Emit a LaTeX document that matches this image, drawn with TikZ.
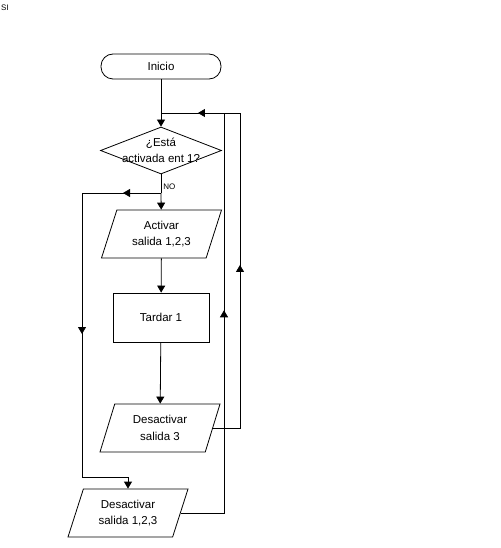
\documentclass[tikz,border=0pt]{standalone}
\usepackage{fontspec}
\setmainfont{Liberation Sans}
\usetikzlibrary{shapes.geometric, arrows.meta, decorations.markings}

\tikzset{
	flow/.style={line width=0.8pt, -{Triangle[length=7pt,width=8pt]}},
	midarrow/.style={postaction={decorate,decoration={markings,mark=at position #1 with {\arrow{Triangle[length=7pt,width=8pt]}}}}},
	terminal/.style={rectangle, draw, line width=0.8pt, rounded corners=12pt, minimum width=120pt, minimum height=25pt},
	decision/.style={diamond, draw, line width=0.8pt, inner sep=0pt, minimum width=121pt, minimum height=47pt},
	io/.style={trapezium, draw, line width=0.8pt, trapezium left angle=65, trapezium right angle=115, trapezium stretches body, minimum width=120pt, minimum height=48pt},
	process/.style={rectangle, draw, line width=0.8pt, minimum width=96pt, minimum height=49pt},
	small/.style={font=\fontsize{8}{9}\selectfont, inner sep=0pt}
}

\begin{document}
\begin{tikzpicture}[x=1pt, y=-1pt, line width=0.8pt,
	every node/.style={font=\fontsize{11.5}{16.5}\selectfont, align=center}]
	\useasboundingbox (0,0) rectangle (500,548);

	\node[small] at (5,8) (si) {SI};
	\node[terminal] at (161,66.5) (inicio) {Inicio};
	\node[decision] at (161,150.5) (pregunta) {};
	\node at (pregunta.center) (preguntatxt) {¿Está\\activada ent 1?};
	\node[io] at (161.5,234) (activar) {Activar\\salida 1,2,3};
	\node[process] at (161,317.5) (tardar) {Tardar 1};
	\node[io] at (160,428) (desact3) {Desactivar\\salida 3};
	\node[io] at (128,513) (desact123) {Desactivar\\salida 1,2,3};

	\coordinate (union) at (161,113);
	\coordinate (rama) at (161,193);
	\coordinate (retorno3) at (240,113);
	\coordinate (retorno123) at (224,113);
	\coordinate (izq) at (82,193);
	\coordinate (abajo) at (82,477);
	\node[small, anchor=west] at (163,187) (no) {NO};

	\draw[flow] (inicio) -- (pregunta);
	\draw (pregunta) -- (rama);
	\draw[flow] (rama) -- (activar);
	\draw[flow] (activar) -- (tardar);
	\draw[flow] (tardar) -- (desact3);

	% lazos de retorno
	\draw[midarrow=190pt, midarrow=384pt] (desact3.east) -| (retorno3) -- (union);
	\draw[midarrow=246pt] (desact123.east) -| (retorno123);
	\draw[flow, midarrow=38pt, midarrow=220pt] (rama) -- (izq) -- (abajo) -| (desact123);
\end{tikzpicture}
\end{document}
